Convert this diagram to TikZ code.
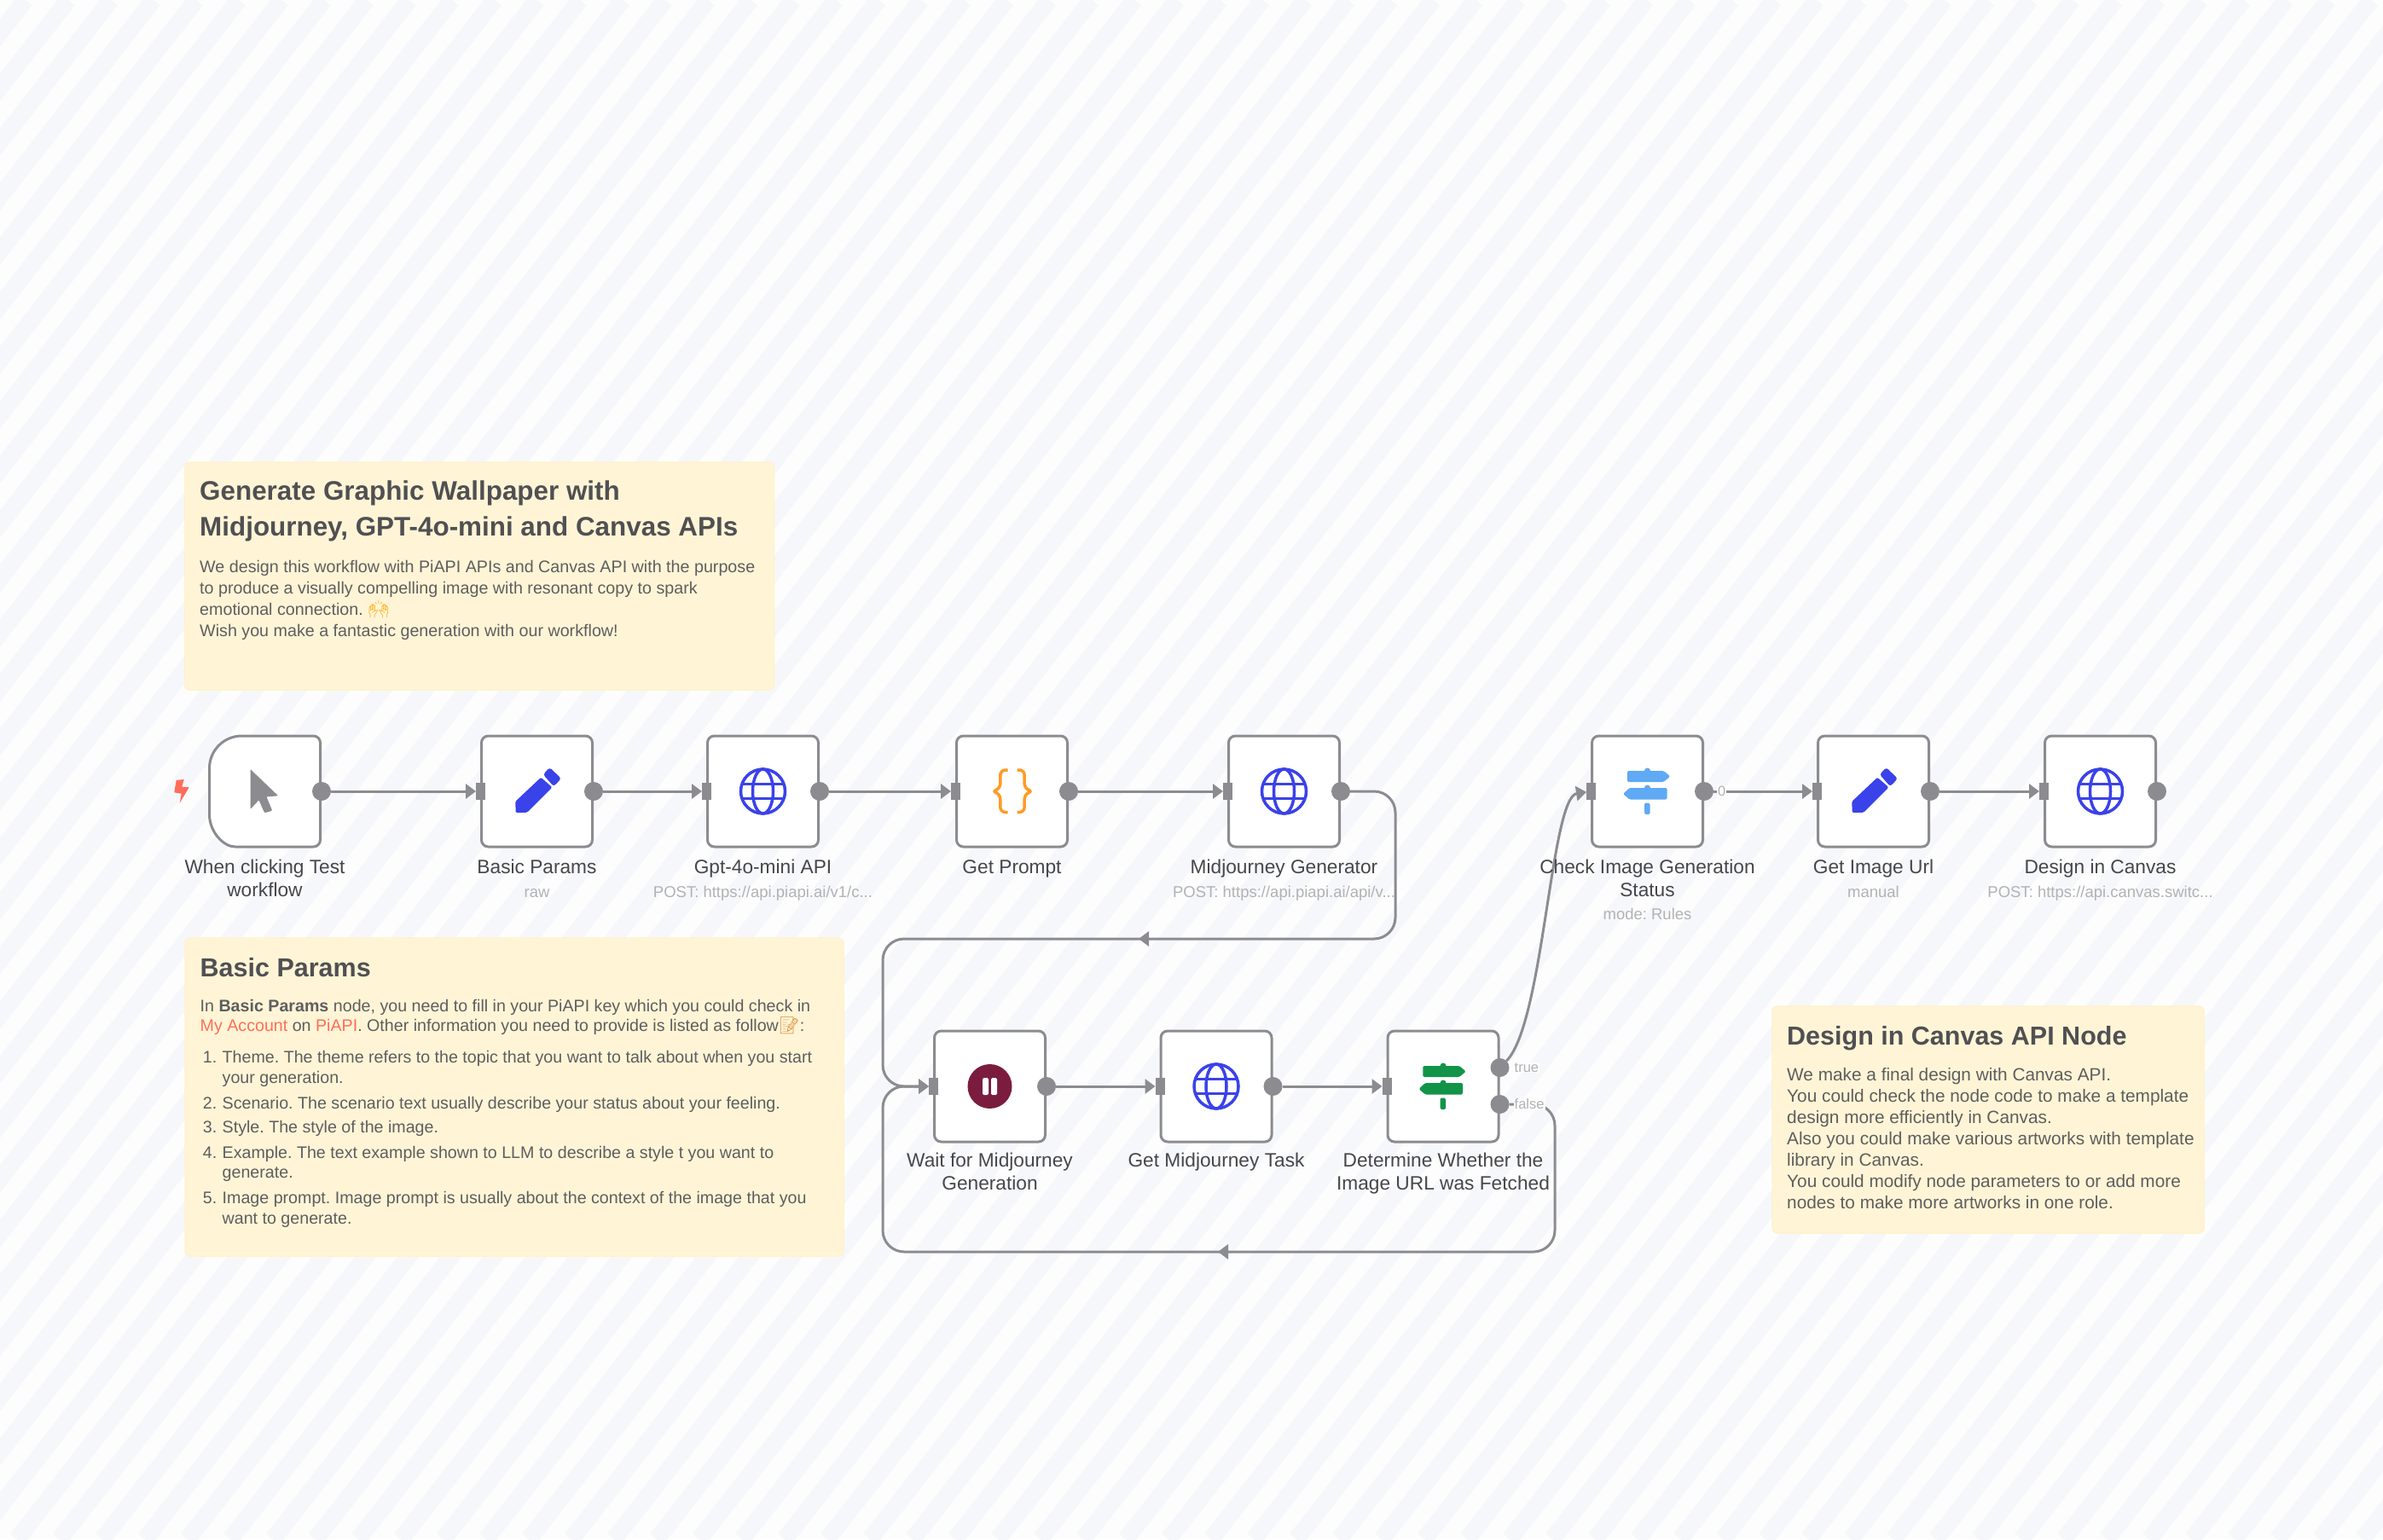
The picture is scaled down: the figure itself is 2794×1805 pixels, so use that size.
\documentclass[tikz,border=0pt]{standalone}
\usepackage{fontspec}
\setmainfont{Liberation Sans}
\newfontfamily\emojifont{Noto Emoji}
\usetikzlibrary{positioning, arrows.meta, decorations.markings}
\definecolor{paper}{HTML}{FDFDFE}
\definecolor{stripegray}{HTML}{F6F7FB}
\definecolor{linegray}{HTML}{8C8C90}
\definecolor{notefill}{HTML}{FFF5D6}
\definecolor{noteedge}{HTML}{FFF2CC}
\definecolor{headink}{HTML}{47474A}
\definecolor{titleink}{HTML}{505053}
\definecolor{bodyink}{HTML}{5E5E60}
\definecolor{subink}{HTML}{B2B2B4}
\definecolor{linkred}{HTML}{FF6D5A}
\definecolor{iconblue}{HTML}{3A42E9}
\definecolor{signsky}{HTML}{5FA9F5}
\definecolor{signgreen}{HTML}{119448}
\definecolor{pausewine}{HTML}{7B1C3E}
\definecolor{braceorange}{HTML}{FF9B26}
\tikzset{
	workbox/.style={
		draw=linegray,
		fill=white,
		line width=3pt,
		rounded corners=8pt,
		minimum size=130pt,
		inner sep=0pt,
		outer sep=0pt,
	},
	ghostbox/.style={
		minimum size=130pt,
		inner sep=0pt,
		outer sep=0pt,
	},
	outdot/.style={circle, fill=linegray, minimum size=22pt, inner sep=0pt, outer sep=0pt},
	inport/.style={fill=linegray, minimum width=11pt, minimum height=20pt, inner sep=0pt, outer sep=0pt},
	link/.style={
		draw=linegray,
		line width=3pt,
		-{Triangle[length=12pt, width=17pt]},
	},
	midtip/.style={
		postaction={decorate},
		decoration={markings, mark=at position #1 with {\arrow{Triangle[length=12pt, width=17pt]}}},
	},
	nodelabel/.style={
		font=\fontsize{22.7}{26.5}\selectfont,
		text=headink,
		align=center,
		inner sep=0pt,
	},
	sublabel/.style={
		font=\fontsize{18.5}{21}\selectfont,
		text=subink,
		text height=13pt,
		text depth=4pt,
		inner sep=0pt,
	},
	portlabel/.style={
		font=\fontsize{16.5}{20}\selectfont,
		text=subink,
		fill=paper,
		inner sep=1pt,
	},
	note/.style={
		draw=noteedge,
		fill=notefill,
		line width=1.5pt,
		rounded corners=6pt,
		inner sep=0pt,
		outer sep=0pt,
		anchor=north west,
	},
	notetitle/.style={
		font=\fontsize{30.5}{42}\selectfont\bfseries,
		text=titleink,
		align=left,
		inner sep=0pt,
	},
	notebody/.style={
		font=\fontsize{19.7}{25}\selectfont,
		text=bodyink,
		align=left,
		inner sep=0pt,
	},
	globeicon/.pic={
		\draw[iconblue, line width=3.5pt] (0,0) circle[radius=26pt];
		\draw[iconblue, line width=3.5pt] (0,0) ellipse[x radius=12pt, y radius=26pt];
		\draw[iconblue, line width=3.5pt] (-24,-8.5) -- (24,-8.5);
		\draw[iconblue, line width=3.5pt] (-24,8.5) -- (24,8.5);
	},
	penicon/.pic={
		\fill[iconblue, rounded corners=1.5pt] (4.7,-16.3) -- (18,-4.7) -- (-11.3,24.7) -- (-24.7,25.3) -- (-25.3,12) -- cycle;
		\fill[iconblue, rounded corners=3pt] (7.3,-19.7) -- (15,-28) -- (28.5,-15) -- (19.7,-5.7) -- cycle;
	},
	signicon/.pic={
		\fill[pic actions, rounded corners=1.5pt] (-23.7,-24) -- (19,-24) -- (26.8,-17.5) -- (19,-11) -- (-23.7,-11) -- cycle;
		\fill[pic actions, rounded corners=1.5pt] (-28.5,3) -- (-21,-4) -- (23,-4) -- (23,9.5) -- (-21,9.5) -- cycle;
		\fill[pic actions] (0,-24) circle[radius=3.5pt];
		\fill[pic actions] (0,-4) circle[radius=3.5pt];
		\fill[pic actions, rounded corners=1.5pt] (-3.5,13.7) rectangle (3,27);
	},
	pauseicon/.pic={
		\fill[pausewine] (0,0) circle[radius=26pt];
		\fill[white, rounded corners=1.5pt] (-8.5,-10) rectangle (-1.5,10);
		\fill[white, rounded corners=1.5pt] (1.5,-10) rectangle (8.5,10);
	},
	braceicon/.pic={
		\draw[braceorange, line width=3.5pt, rounded corners=6pt] (-5,-25) -- (-13.7,-25) -- (-13.7,-3) -- (-23.7,0) -- (-13.7,3) -- (-13.7,24.5) -- (-5,24.5);
		\draw[braceorange, line width=3.5pt, rounded corners=6pt] (6,-25) -- (14.7,-25) -- (14.7,-3) -- (24.7,0) -- (14.7,3) -- (14.7,24.5) -- (6,24.5);
	},
	cursoricon/.pic={
		\fill[linegray, rounded corners=1pt] (-17,-26) -- (15.7,5.3) -- (2,6.3) -- (8.7,22.7) -- (-.3,25.3) -- (-7,10.3) -- (-17,21) -- cycle;
	},
	bolticon/.pic={
		\fill[linkred] (-5.3,-13) -- (3.7,-14) -- (1.3,-5.3) -- (9.7,-4.7) -- (-1.3,13.7) -- (.7,2.7) -- (-7.7,1.3) -- cycle;
	},
}
\begin{document}
\frenchspacing
\begin{tikzpicture}[x=1pt, y=-1pt]
	\useasboundingbox (0,0) rectangle (2794,1805);
	\fill[paper] (0,0) rectangle (2794,1805);
	% stripes of the canvas
	\begin{scope}
		\clip (0,0) rectangle (2794,1805);
		\foreach \k in {0,...,84}
			\draw[stripegray, line width=20pt] ({30+50*\k},0) -- ++(-1410,1805);
	\end{scope}

	% sticky notes
	\node[note, minimum width=691pt, minimum height=267pt] (introbox) at (216.5,542) {};
	\node[notetitle, font=\fontsize{31.4}{42}\selectfont\bfseries, below right=22pt and 17.5pt of introbox.north west] (introtitle) {Generate Graphic Wallpaper with\\Midjourney, GPT-4o-mini and Canvas APIs};
	\node[notebody, below right=115pt and 17.5pt of introbox.north west] (introtext) {We design this workflow with PiAPI APIs and Canvas API with the purpose\\to produce a visually compelling image with resonant copy to spark\\emotional connection. {\emojifont\color{braceorange!80!yellow}🙌}\\Wish you make a fantastic generation with our workflow!};

	\node[note, minimum width=772pt, minimum height=373pt] (paramsbox) at (217,1100) {};
	\node[notetitle, below right=23.5pt and 17.5pt of paramsbox.north west] (paramstitle) {Basic Params};
	\node[notebody, font=\fontsize{19.65}{23.5}\selectfont, below right=72pt and 17.5pt of paramsbox.north west] (paramstext) {In \textbf{Basic Params} node, you need to fill in your PiAPI key which you could check in\\{\color{linkred}My Account} on {\color{linkred}PiAPI}. Other information you need to provide is listed as follow{\emojifont\color{braceorange!70!gray}📝}:\\[13.5pt]
		\makebox[26pt][l]{\,1.}Theme. The theme refers to the topic that you want to talk about when you start\\\hspace*{26pt}your generation.\\[6.5pt]
		\makebox[26pt][l]{\,2.}Scenario. The scenario text usually describe your status about your feeling.\\[4.5pt]
		\makebox[26pt][l]{\,3.}Style. The style of the image.\\[6.5pt]
		\makebox[26pt][l]{\,4.}Example. The text example shown to LLM to describe a style t you want to\\\hspace*{26pt}generate.\\[6.5pt]
		\makebox[26pt][l]{\,5.}Image prompt. Image prompt is usually about the context of the image that you\\\hspace*{26pt}want to generate.};

	\node[note, minimum width=506pt, minimum height=266pt] (canvasbox) at (2078,1180) {};
	\node[notetitle, below right=23.5pt and 17pt of canvasbox.north west] (canvastitle) {Design in Canvas API Node};
	\node[notebody, font=\fontsize{20.8}{25}\selectfont, below right=72pt and 17pt of canvasbox.north west] (canvastext) {We make a final design with Canvas API.\\You could check the node code to make a template\\design more efficiently in Canvas.\\Also you could make various artworks with template\\library in Canvas.\\You could modify node parameters to or add more\\nodes to make more artworks in one role.};

	% upper row
	\node[ghostbox] (trigger) at (310.5,928) {};
	\draw[draw=linegray, fill=white, line width=3pt] ([xshift=38pt]trigger.north west) [rounded corners=8pt] -- (trigger.north east) -- (trigger.south east) -- ([xshift=38pt]trigger.south west) [sharp corners] .. controls ([xshift=17pt]trigger.south west) and ([yshift=17pt]trigger.south west) .. ([yshift=38pt]trigger.south west) -- ([yshift=-38pt]trigger.north west) .. controls ([yshift=-17pt]trigger.north west) and ([xshift=17pt]trigger.north west) .. ([xshift=38pt]trigger.north west) -- cycle;
	\node[workbox, right=189pt of trigger] (params) {};
	\node[workbox, right=135pt of params] (gpt) {};
	\node[workbox, right=162pt of gpt] (prompt) {};
	\node[workbox, right=189pt of prompt] (generator) {};
	\node[workbox, right=296pt of generator] (check) {};
	\node[workbox, right=135pt of check] (imageurl) {};
	\node[workbox, right=136pt of imageurl] (design) {};

	% lower row
	\node[workbox] (wait) at (1160.5,1274) {};
	\node[workbox, right=135.5pt of wait] (task) {};
	\node[workbox, right=136pt of task] (decide) {};

	% icons
	\pic at (trigger) {cursoricon};
	\pic at ([xshift=-33.5pt]trigger.west) {bolticon};
	\pic at (params) {penicon};
	\pic at (gpt) {globeicon};
	\pic at (prompt) {braceicon};
	\pic at (generator) {globeicon};
	\pic[fill=signsky] at (check) {signicon};
	\pic at (imageurl) {penicon};
	\pic at (design) {globeicon};
	\pic at (wait) {pauseicon};
	\pic at (task) {globeicon};
	\pic[fill=signgreen] at (decide) {signicon};

	% ports
	\node[outdot] (triggerout) at ([xshift=1.5pt]trigger.east) {};
	\node[outdot] (paramsout) at ([xshift=1.5pt]params.east) {};
	\node[outdot] (gptout) at ([xshift=1.5pt]gpt.east) {};
	\node[outdot] (promptout) at ([xshift=1.5pt]prompt.east) {};
	\node[outdot] (generatorout) at ([xshift=1.5pt]generator.east) {};
	\node[outdot] (checkout) at ([xshift=1.5pt]check.east) {};
	\node[outdot] (imageurlout) at ([xshift=1.5pt]imageurl.east) {};
	\node[outdot] (designout) at ([xshift=1.5pt]design.east) {};
	\node[outdot] (waitout) at ([xshift=1.5pt]wait.east) {};
	\node[outdot] (taskout) at ([xshift=1.5pt]task.east) {};
	\node[outdot] (trueout) at ([xshift=1.5pt, yshift=22pt]decide.east) {};
	\node[outdot] (falseout) at ([xshift=1.5pt, yshift=-21pt]decide.east) {};
	\node[inport] (paramsin) at ([xshift=-1pt]params.west) {};
	\node[inport] (gptin) at ([xshift=-1pt]gpt.west) {};
	\node[inport] (promptin) at ([xshift=-1pt]prompt.west) {};
	\node[inport] (generatorin) at ([xshift=-1pt]generator.west) {};
	\node[inport] (checkin) at ([xshift=-1pt]check.west) {};
	\node[inport] (imageurlin) at ([xshift=-1pt]imageurl.west) {};
	\node[inport] (designin) at ([xshift=-1pt]design.west) {};
	\node[inport] (waitin) at ([xshift=-1pt]wait.west) {};
	\node[inport] (taskin) at ([xshift=-1pt]task.west) {};
	\node[inport] (decidein) at ([xshift=-1pt]decide.west) {};

	% connectors
	\coordinate (upperright) at (1636,1101);
	\coordinate (upperleft) at (1035,1101);
	\coordinate (lowerright) at (1823,1468);
	\coordinate (lowerleft) at (1035,1468);
	\draw[link] (triggerout) -- (paramsin);
	\draw[link] (paramsout) -- (gptin);
	\draw[link] (gptout) -- (promptin);
	\draw[link] (promptout) -- (generatorin);
	\draw[link] (checkout) -- (imageurlin);
	\draw[link] (imageurlout) -- (designin);
	\draw[link] (waitout) -- (taskin);
	\draw[link] (taskout) -- (decidein);
	\draw[link, rounded corners=25pt, midtip=0.5] (generatorout) -| (upperright) -- (upperleft) |- (waitin);
	\draw[link, rounded corners=25pt, midtip=0.492] (falseout) -| (lowerright) -- (lowerleft) |- (waitin);
	\draw[link] (trueout) .. controls (1810,1200) and (1818,935) .. (checkin);

	% port labels
	\node[portlabel, right=5pt of trueout] (truetext) {true};
	\node[portlabel, right=5pt of falseout] (falsetext) {false};
	\node[portlabel, right=4pt of checkout] (zerotext) {0};

	% labels
	\node[nodelabel, below=15pt of trigger] (triggerlabel) {When clicking Test\\workflow};
	\node[nodelabel, below=15pt of params] (paramslabel) {Basic Params};
	\node[sublabel, below=46pt of params] (paramssub) {raw};
	\node[nodelabel, below=15pt of gpt] (gptlabel) {Gpt-4o-mini API};
	\node[sublabel, below=46pt of gpt] (gptsub) {POST: https://api.piapi.ai/v1/c...};
	\node[nodelabel, below=15pt of prompt] (promptlabel) {Get Prompt};
	\node[nodelabel, below=15pt of generator] (generatorlabel) {Midjourney Generator};
	\node[sublabel, below=46pt of generator] (generatorsub) {POST: https://api.piapi.ai/api/v...};
	\node[nodelabel, below=15pt of check] (checklabel) {Check Image Generation\\Status};
	\node[sublabel, below=72pt of check] (checksub) {mode: Rules};
	\node[nodelabel, below=15pt of imageurl] (imageurllabel) {Get Image Url};
	\node[sublabel, below=46pt of imageurl] (imageurlsub) {manual};
	\node[nodelabel, below=15pt of design] (designlabel) {Design in Canvas};
	\node[sublabel, below=46pt of design] (designsub) {POST: https://api.canvas.switc...};
	\node[nodelabel, below=13pt of wait] (waitlabel) {Wait for Midjourney\\Generation};
	\node[nodelabel, below=13pt of task] (tasklabel) {Get Midjourney Task};
	\node[nodelabel, below=13pt of decide] (decidelabel) {Determine Whether the\\Image URL was Fetched};
\end{tikzpicture}
\end{document}
